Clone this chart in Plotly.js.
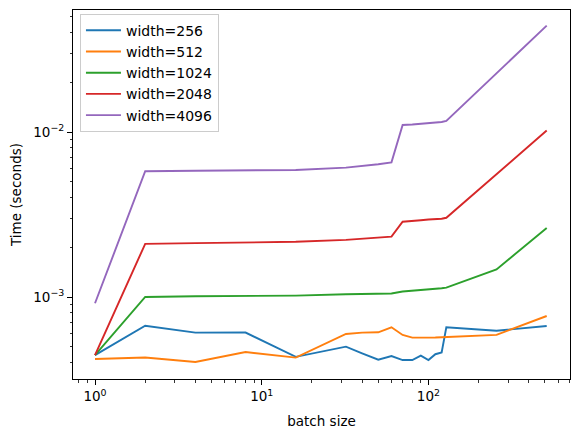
<!DOCTYPE html>
<html>
<head>
<meta charset="utf-8">
<script src="https://cdn.plot.ly/plotly-3.0.1.min.js"></script>
<style>html,body{margin:0;padding:0;background:#fff;}#chart{width:578px;height:437px;}</style>
</head>
<body>
<div id="chart"></div>
<script>
const batchSizes = [1, 2, 4, 8, 16, 32, 40, 50, 60, 70, 80, 90, 100, 110, 120, 128, 256, 512];
const seriesNames = ["width=256", "width=512", "width=1024", "width=2048", "width=4096"];
const time256  = [0.000444, 0.000670, 0.000608, 0.000609, 0.000434, 0.000500, 0.000456, 0.000417, 0.000439, 0.000415, 0.000415, 0.000441, 0.000415, 0.000450, 0.000461, 0.000655, 0.000625, 0.000667];
const time512  = [0.000421, 0.000430, 0.000404, 0.000464, 0.000429, 0.000597, 0.000608, 0.000611, 0.000655, 0.000589, 0.000567, 0.000566, 0.000566, 0.000568, 0.000570, 0.000572, 0.000589, 0.000767];
const time1024 = [0.000444, 0.00100, 0.00101, 0.00101, 0.00102, 0.00104, 0.00104, 0.00104, 0.00105, 0.00108, 0.00109, 0.00110, 0.00111, 0.00112, 0.00113, 0.00114, 0.00147, 0.00262];
const time2048 = [0.000444, 0.00210, 0.00212, 0.00214, 0.00216, 0.00222, 0.00226, 0.00229, 0.00232, 0.00286, 0.00288, 0.00292, 0.00295, 0.00296, 0.00298, 0.00302, 0.00552, 0.0102];
const time4096 = [0.000916, 0.00578, 0.00582, 0.00586, 0.00589, 0.00608, 0.00620, 0.00638, 0.00655, 0.01103, 0.0111, 0.0112, 0.0113, 0.0114, 0.0115, 0.01166, 0.0226, 0.0441];
const colors = ["#1f77b4", "#ff7f0e", "#2ca02c", "#d62728", "#9467bd"];
const xTickVals = [1, 10, 100];
const xTickText = ["10<sup>0</sup>", "10<sup>1</sup>", "10<sup>2</sup>"];
const yTickVals = [0.001, 0.01];
const yTickText = ["10<sup>\u22123</sup>", "10<sup>\u22122</sup>"];

const allSeries = [time256, time512, time1024, time2048, time4096];
const traces = allSeries.map((ys, i) => ({
  x: batchSizes, y: ys, type: "scatter", mode: "lines", name: seriesNames[i],
  line: {color: colors[i], width: 1.9}
}));

function minorTicks(lo, hi) {
  const out = [];
  for (let e = lo; e <= hi; e++) for (let m = 2; m <= 9; m++) out.push(m * Math.pow(10, e));
  return out;
}

const font = {family: "DejaVu Sans, Verdana, sans-serif", size: 13.5, color: "#000"};
const legendFont = {family: "DejaVu Sans, Verdana, sans-serif", size: 14, color: "#000"};
const layout = {
  width: 578, height: 437,
  margin: {l: 73, r: 8, t: 10, b: 58},
  paper_bgcolor: "#fff", plot_bgcolor: "#fff",
  font: font,
  showlegend: true,
  legend: {x: 0.014, y: 0.99, xanchor: "left", yanchor: "top",
           bgcolor: "rgba(255,255,255,0.8)", bordercolor: "#cccccc", borderwidth: 1,
           font: legendFont, itemwidth: 35},
  xaxis: {
    type: "log", range: [-0.132, 2.849], autorange: false,
    showgrid: false, zeroline: false,
    showline: true, mirror: true, linecolor: "#000", linewidth: 1,
    ticks: "outside", ticklen: 5, tickwidth: 1, tickcolor: "#000",
    tickmode: "array", tickvals: xTickVals, ticktext: xTickText,
    tickfont: font,
    minor: {tickmode: "array", tickvals: minorTicks(-1, 2), ticks: "outside", ticklen: 2.5, tickwidth: 0.8, tickcolor: "#000", showgrid: false},
    title: {text: "batch size", font: font, standoff: 13}
  },
  yaxis: {
    type: "log", range: [-3.497, -1.2606], autorange: false,
    showgrid: false, zeroline: false,
    showline: true, mirror: true, linecolor: "#000", linewidth: 1,
    ticks: "outside", ticklen: 5, tickwidth: 1, tickcolor: "#000",
    tickmode: "array", tickvals: yTickVals, ticktext: yTickText,
    tickfont: font,
    minor: {tickmode: "array", tickvals: minorTicks(-4, -2), ticks: "outside", ticklen: 2.5, tickwidth: 0.8, tickcolor: "#000", showgrid: false},
    title: {text: "Time (seconds)", font: font, standoff: 8}
  }
};

Plotly.newPlot("chart", traces, layout, {displayModeBar: false, staticPlot: true});
</script>
</body>
</html>
